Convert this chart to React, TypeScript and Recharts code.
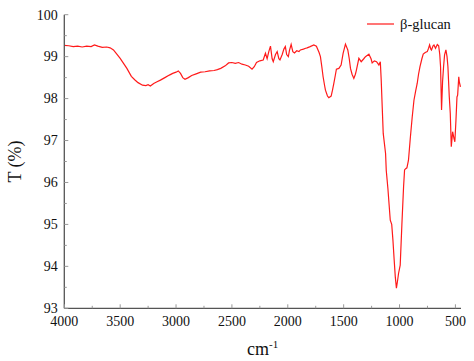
import * as React from 'react'
import { LineChart, Line, XAxis, YAxis, Legend, Label } from 'recharts'

// wavenumber (cm-1) and transmittance (%)
const wavenumbers = [
  4000, 3960, 3920, 3880, 3840, 3800, 3760, 3730, 3700, 3660, 3620, 3590, 3560, 3530, 3500,
  3470, 3440, 3400, 3370, 3340, 3300, 3270, 3250, 3230, 3200, 3170, 3140, 3100, 3060, 3030,
  3000, 2980, 2960, 2940, 2920, 2890, 2860, 2820, 2780, 2740, 2700, 2660, 2630, 2600, 2560,
  2530, 2500, 2470, 2440, 2410, 2380, 2350, 2320, 2300, 2280, 2250, 2220, 2200, 2185, 2170,
  2155, 2140, 2130, 2110, 2095, 2080, 2070, 2050, 2035, 2022, 2010, 1995, 1985, 1970, 1955,
  1940, 1920, 1900, 1887, 1860, 1840, 1827, 1800, 1767, 1744, 1720, 1708, 1695, 1684, 1670,
  1663, 1645, 1633, 1612, 1600, 1588, 1575, 1565, 1543, 1523, 1505, 1484, 1463, 1450, 1439,
  1425, 1409, 1395, 1386, 1364, 1343, 1320, 1305, 1274, 1255, 1245, 1225, 1206, 1195, 1185,
  1172, 1164, 1155, 1146, 1125, 1119, 1104, 1083, 1070, 1059, 1048, 1038, 1028, 1018, 1009,
  994, 979, 964, 955, 945, 934, 920, 904, 887, 871, 856, 842, 830, 817, 800,
  788, 770, 752, 740, 731, 720, 714, 700, 692, 678, 662, 650, 640, 633, 624,
  615, 606, 597, 585, 575, 567, 555, 546, 537, 525, 513, 505, 495, 486, 480,
  470, 465, 455,
]
const transmittance = [
  99.27, 99.26, 99.24, 99.25, 99.23, 99.25, 99.24, 99.28, 99.25, 99.22, 99.23, 99.21, 99.16, 99.06, 98.96,
  98.84, 98.72, 98.53, 98.45, 98.38, 98.32, 98.31, 98.33, 98.3, 98.36, 98.4, 98.44, 98.5, 98.56, 98.6,
  98.63, 98.66, 98.6, 98.5, 98.46, 98.5, 98.55, 98.59, 98.63, 98.64, 98.66, 98.67, 98.69, 98.72, 98.78,
  98.85, 98.86, 98.84, 98.86, 98.82, 98.8, 98.77, 98.7, 98.76, 98.86, 98.9, 98.92, 99.08, 98.95, 99.12,
  99.25, 98.95, 98.88, 99.05, 99.12, 98.95, 98.92, 99.05, 99.18, 99.24, 99.05, 99.0, 99.15, 99.29, 99.12,
  99.09, 99.14, 99.12, 99.16, 99.18, 99.2, 99.21, 99.24, 99.28, 99.25, 99.1, 99.0, 98.75, 98.52, 98.3,
  98.2, 98.06, 98.02, 98.06, 98.2, 98.36, 98.55, 98.7, 98.72, 98.8, 99.08, 99.3, 99.16, 98.95, 98.72,
  98.58, 98.48, 98.58, 98.68, 98.96, 98.88, 98.95, 99.0, 99.06, 98.95, 98.85, 98.9, 98.88, 98.84, 98.8,
  98.88, 98.44, 97.8, 97.17, 96.69, 96.29, 95.85, 95.1, 95.0, 94.62, 94.15, 93.75, 93.48, 93.65, 93.83,
  94.03, 95.0, 95.89, 96.3, 96.33, 96.35, 96.53, 97.05, 97.55, 97.96, 98.18, 98.36, 98.58, 98.76, 98.95,
  99.06, 99.1, 99.12, 99.2, 99.28, 99.18, 99.16, 99.26, 99.28, 99.2, 99.29, 99.26, 99.05, 98.76, 97.73,
  98.4, 98.76, 99.04, 99.16, 99.0, 98.76, 98.05, 97.65, 96.85, 97.21, 97.05, 96.97, 97.49, 98.04, 98.08,
  98.52, 98.4, 98.28,
]

const xMajorTicks = [4000, 3500, 3000, 2500, 2000, 1500, 1000, 500]
const xMinorTicks = [3750, 3250, 2750, 2250, 1750, 1250, 750]
const yMajorTicks = [93, 94, 95, 96, 97, 98, 99, 100]
const yMinorTicks = [93.5, 94.5, 95.5, 96.5, 97.5, 98.5, 99.5]

const seriesName = 'β-glucan'

const data = wavenumbers.map((wn, i) => ({ wn, t: transmittance[i] }))

const FONT = "'Liberation Serif', serif"
const AXIS = '#555'
const TICK = '#999'
const RED = '#ff1a1a'

function XTick({ x, y, payload }: any) {
  const major = xMajorTicks.includes(payload.value)
  return (
    <g>
      <line x1={x} x2={x} y1={y} y2={y - (major ? 4 : 2.5)} stroke={TICK} />
      {major && (
        <text x={x} y={y + 17.5} textAnchor="middle" style={{ fontFamily: FONT, fontSize: 14 }} fill="#111">
          {payload.value}
        </text>
      )}
    </g>
  )
}

function YTick({ x, y, payload }: any) {
  const major = yMajorTicks.includes(payload.value)
  return (
    <g>
      <line x1={x} x2={x + (major ? 4 : 2.5)} y1={y} y2={y} stroke={TICK} />
      {major && (
        <text x={x - 6.5} y={y + 4.8} textAnchor="end" style={{ fontFamily: FONT, fontSize: 14 }} fill="#111">
          {payload.value}
        </text>
      )}
    </g>
  )
}

function LegendBox() {
  return (
    <div style={{ display: 'flex', alignItems: 'center', height: 16 }}>
      <svg width={27} height={4}>
        <line x1={0} x2={27} y1={2} y2={2} stroke={RED} strokeWidth={1.2} />
      </svg>
      <span style={{ marginLeft: 6.5, fontFamily: FONT, fontSize: 14.5, color: '#111', lineHeight: '16px' }}>
        {seriesName}
      </span>
    </div>
  )
}

export default function App() {
  return (
    <div style={{ position: 'absolute', left: 0, top: 0, width: 474, height: 361, background: '#fff', fontFamily: FONT }}>
      <LineChart width={474} height={361} data={data} margin={{ top: 14.7, right: 13, bottom: 12.7, left: 0 }}>
        <XAxis
          dataKey="wn"
          type="number"
          domain={[450, 4000]}
          reversed
          allowDataOverflow
          ticks={[...xMajorTicks, ...xMinorTicks].sort((a, b) => b - a)}
          interval={0}
          tickSize={0}
          tickMargin={0}
          tick={<XTick />}
          tickLine={false}
          axisLine={{ stroke: AXIS, strokeWidth: 1.3 }}
          height={40}
        >
          <Label
            content={({ viewBox }: any) => (
              <text x={viewBox.x + viewBox.width / 2} y={355} textAnchor="middle" style={{ fontFamily: FONT, fontSize: 18 }} fill="#111">
                cm<tspan dy={-7} fontSize={11}>-1</tspan>
              </text>
            )}
          />
        </XAxis>
        <YAxis
          type="number"
          domain={[93, 100]}
          allowDataOverflow
          ticks={[...yMajorTicks, ...yMinorTicks].sort((a, b) => a - b)}
          interval={0}
          tickSize={0}
          tickMargin={0}
          tick={<YTick />}
          tickLine={false}
          axisLine={{ stroke: AXIS, strokeWidth: 1.3 }}
          width={64.3}
        >
          <Label
            content={({ viewBox }: any) => {
              const cy = viewBox.y + viewBox.height / 2
              return (
                <text x={21} y={cy} transform={`rotate(-90 21 ${cy})`} textAnchor="middle" style={{ fontFamily: FONT, fontSize: 18 }} fill="#111">
                  T (%)
                </text>
              )
            }}
          />
        </YAxis>
        <Legend
          verticalAlign="middle"
          align="center"
          layout="horizontal"
          content={<LegendBox />}
          wrapperStyle={{ top: 16, left: 366.5, width: 108 }}
        />
        <Line
          type="linear"
          dataKey="t"
          name={seriesName}
          stroke={RED}
          strokeWidth={1.2}
          dot={false}
          isAnimationActive={false}
        />
      </LineChart>
    </div>
  )
}
